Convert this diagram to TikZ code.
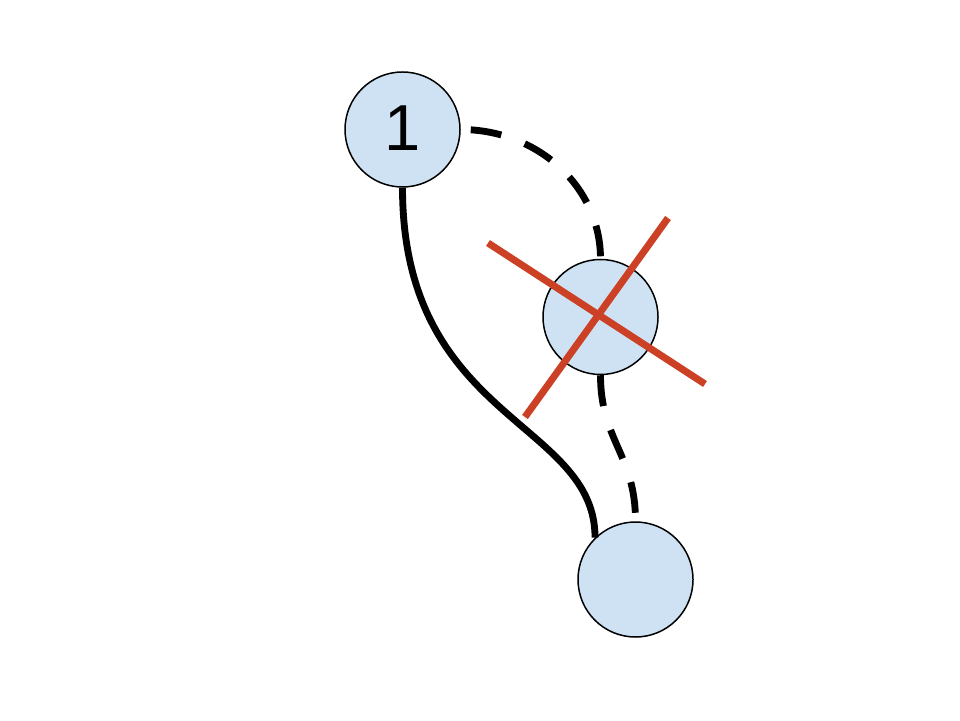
\documentclass[tikz,border=0pt]{standalone}
\usepackage{fontspec}
\setmainfont{Liberation Sans}
\definecolor{nodeblue}{HTML}{CFE2F3}
\definecolor{crossred}{HTML}{CC4125}

\begin{document}
\begin{tikzpicture}[
		vertex/.style={circle,draw,line width=0.85pt,fill=nodeblue,minimum size=2.3cm,inner sep=0pt,font=\fontsize{37}{37}\selectfont},
		link/.style={line width=3.9pt},
		droplink/.style={line width=3.9pt,dash pattern=on 0.62cm off 0.5cm},
		cross/.style={crossred,line width=4pt}
	]
	\useasboundingbox (0,0) rectangle (19.2,14.4);
	\draw (8.05,11.81) node [vertex] (1) {\raisebox{1pt}{1}};
	\draw (12.01,8.06) node [vertex] (2) {};
	\draw (12.71,2.81) node [vertex] (3) {};
	\draw[link] (1.south) .. controls +(0,-4.66) and +(0,2.34) .. (3.134);
	\draw[droplink,dash phase=0.92cm] (1.east) .. controls +(1.54,0) and +(0,1.44) .. (2.north);
	\draw[droplink] (2.south) .. controls +(0,-1.31) and +(0,1.34) .. (3.north);
	\draw[cross] (9.76,9.54) -- (14.1,6.72);
	\draw[cross] (10.5,6.06) -- (13.36,10.04);
\end{tikzpicture}
\end{document}
